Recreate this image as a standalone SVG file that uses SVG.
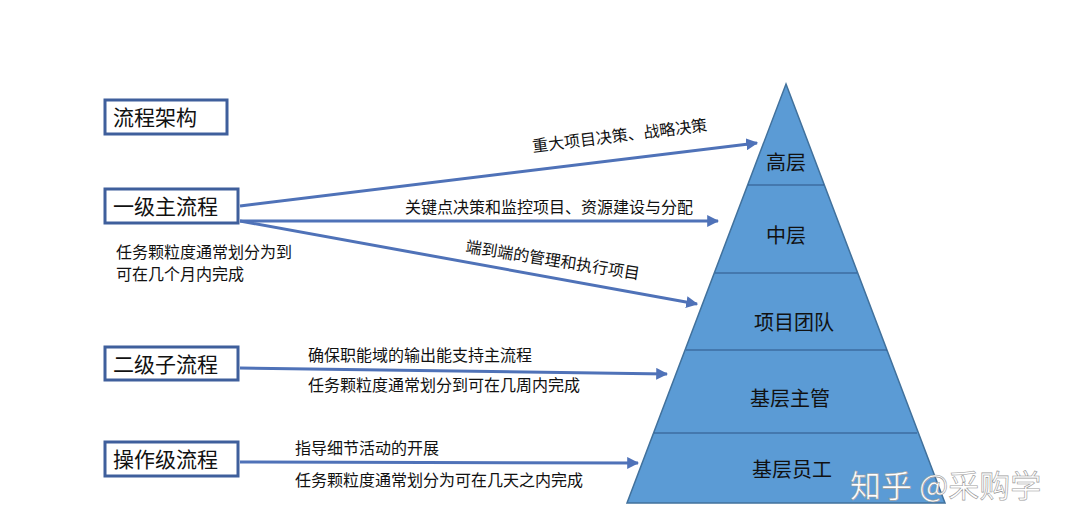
<svg xmlns="http://www.w3.org/2000/svg" width="1080" height="530" viewBox="0 0 1080 530">
<defs>
<marker id="ah" viewBox="0 0 10 10" refX="9" refY="5" markerWidth="4" markerHeight="4" orient="auto"><path d="M0,0 L10,5 L0,10 z" fill="#4f72b8"/></marker>
<style>
text{font-family:"Noto Sans CJK SC","Liberation Sans",sans-serif;fill:#111}
.box{fill:#fff;stroke:#3f5f9c;stroke-width:3}
.bt{font-size:21px}
.lab{font-size:16px}
.lv{font-size:20px;text-anchor:middle}
.ar{stroke:#4f72b8;stroke-width:3;fill:none;marker-end:url(#ah)}
.div{stroke:#2f5788;stroke-width:1.2}
</style>
</defs>
<rect width="1080" height="530" fill="#fff"/>
<g id="pyramid">
<polygon points="786,84 945,503 627,503" fill="#5b9bd5" stroke="#41719c" stroke-width="1.5"/>
<line class="div" x1="748" y1="185" x2="824" y2="185"/>
<line class="div" x1="715" y1="273" x2="857" y2="273"/>
<line class="div" x1="686" y1="350" x2="887" y2="350"/>
<line class="div" x1="654" y1="433" x2="917" y2="433"/>
<text class="lv" x="786" y="170">高层</text>
<text class="lv" x="786" y="243">中层</text>
<text class="lv" x="794" y="330">项目团队</text>
<text class="lv" x="790" y="406">基层主管</text>
<text class="lv" x="792" y="477">基层员工</text>
</g>
<g id="n0"><rect class="box" x="105" y="100" width="122" height="34"/><text class="bt" x="113" y="125">流程架构</text></g>
<g id="n1"><rect class="box" x="105" y="189" width="133" height="34"/><text class="bt" x="113" y="214">一级主流程</text>
<text class="lab" x="116" y="258">任务颗粒度通常划分为到</text><text class="lab" x="116" y="280">可在几个月内完成</text></g>
<g id="n2"><rect class="box" x="105" y="347" width="133" height="33"/><text class="bt" x="113" y="372">二级子流程</text></g>
<g id="n3"><rect class="box" x="105" y="442" width="133" height="34"/><text class="bt" x="113" y="467">操作级流程</text></g>
<g id="connectors">
<line class="ar" x1="240" y1="206" x2="757" y2="143"/>
<line class="ar" x1="240" y1="221" x2="718" y2="221"/>
<line class="ar" x1="240" y1="221" x2="697" y2="304"/>
<line class="ar" x1="240" y1="368" x2="667" y2="374"/>
<line class="ar" x1="240" y1="462" x2="638" y2="463"/>
<text class="lab" transform="translate(533,152) rotate(-7)">重大项目决策、战略决策</text>
<text class="lab" x="405" y="213">关键点决策和监控项目、资源建设与分配</text>
<text class="lab" transform="translate(465,252) rotate(9)">端到端的管理和执行项目</text>
<text class="lab" x="308" y="361">确保职能域的输出能支持主流程</text>
<text class="lab" x="308" y="391">任务颗粒度通常划分到可在几周内完成</text>
<text class="lab" x="295" y="454">指导细节活动的开展</text>
<text class="lab" x="295" y="486">任务颗粒度通常划分为可在几天之内完成</text>
</g>
<text x="850" y="497" style="font-size:31px;fill:#fff;stroke:#999;stroke-width:0.6">知乎 @采购学</text>
</svg>
